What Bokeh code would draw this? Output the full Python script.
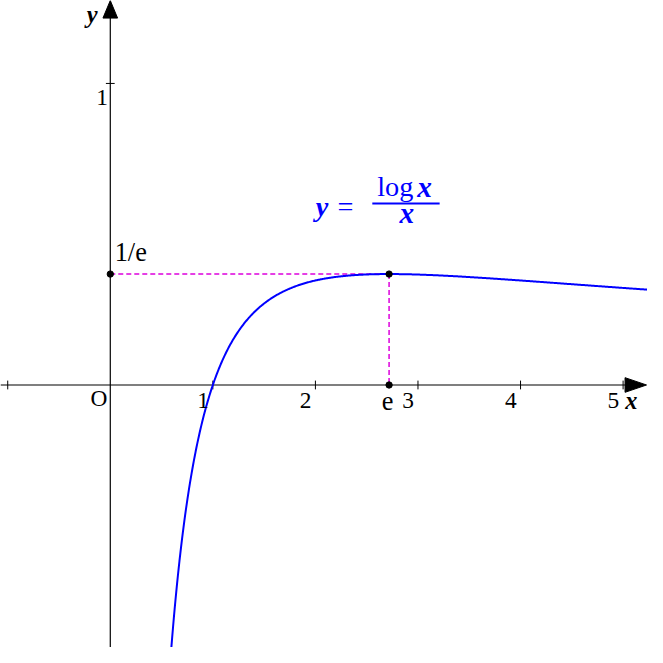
import numpy as np
from bokeh.plotting import figure
from bokeh.models import Range1d
from bokeh.core.properties import value
from bokeh.embed import file_html
from bokeh.resources import INLINE

# ---- data ----
curve_x = np.linspace(0.58, 5.3, 600)
curve_y = np.log(curve_x) / curve_x          # y = log x / x
e_val = float(np.e)
max_y = 1.0 / e_val
x_ticks = [-1, 1, 2, 3, 4, 5]
x_tick_labels = ["1", "2", "3", "4", "5"]
x_label_vals = [1, 2, 3, 4, 5]
y_ticks = [1]

# ---- geometry (reference pixel -> data) ----
REF = 663.0
W = H = 647
K = W / REF
OX, OY = 112.5, 394.0
SX, SY = 105.1, 309.0
MID = 0.3375  # em-box middle above baseline (Liberation Serif)
def X(px): return (px - OX) / SX
def Y(py): return (OY - py) / SY
def fs(px): return f"{px * K:.1f}px"
def o(px): return px * K

p = figure(width=W, height=H, output_backend="svg", toolbar_location=None,
           x_range=Range1d(X(0), X(REF)), y_range=Range1d(Y(REF), Y(0)),
           min_border=0, outline_line_color=None, background_fill_color="white")
p.axis.visible = False
p.grid.visible = False

SERIF = value("Liberation Serif")
BLUE = "#0000FF"
MAG = "#DD00DD"

def label(x, y, s, f, dx=0.0, base=0.0, align="center", style="normal", color="black"):
    """dx, base: pixel offsets (reference px) of centre / baseline from the anchor point"""
    p.text(x=[x], y=[y], text=[s], x_offset=o(dx), y_offset=o(base - MID * f),
           text_align=align, text_baseline="middle", text_font=SERIF,
           text_font_size=fs(f), text_font_style=style, text_color=color)

# axes
p.segment(x0=[X(0)], y0=[0], x1=[X(645)], y1=[0], line_color="black", line_width=1.2)
p.segment(x0=[0], y0=[Y(663)], x1=[0], y1=[Y(14)], line_color="black", line_width=1.2)
# arrow heads
p.patch(x=[X(640), X(662), X(640)], y=[Y(386.5), Y(394), Y(401.5)], color="black")
p.patch(x=[X(105), X(112.5), X(120)], y=[Y(18), Y(0), Y(18)], color="black")

# ticks
p.scatter(x=x_ticks, y=[0] * len(x_ticks), marker="dash", angle=np.pi / 2, size=o(9),
          line_color="black", line_width=1)
p.scatter(x=[0] * len(y_ticks), y=y_ticks, marker="dash", size=o(9),
          line_color="black", line_width=1)

# dashed guides
p.line(x=[0, e_val], y=[max_y, max_y], line_color=MAG, line_dash="5 3", line_width=1.5)
p.line(x=[e_val, e_val], y=[max_y, 0], line_color=MAG, line_dash="5 3", line_width=1.5)

# curve
p.line(x=curve_x, y=curve_y, line_color=BLUE, line_width=2)

# points
p.scatter(x=[0, e_val, e_val], y=[max_y, max_y, 0], size=o(6.5), color="black")

# tick labels
for v, s in zip(x_label_vals, x_tick_labels):
    label(v, 0, s, 24, dx=-10, base=24)
label(0, 0, "O", 24, dx=-11.5, base=21)
label(e_val, 0, "e", 27, dx=-1.5, base=26)
label(0, 1, "1", 24, dx=-8.5, base=23)
label(0, max_y, "1/e", 27, dx=4.5, base=-13, align="left")
# axis names
label(X(646.5), 0, "x", 25, base=24, style="bold italic")
label(X(94), Y(23), "y", 25, style="bold italic")

# formula y = log x / x
label(X(329.5), Y(221), "y", 29, style="bold italic", color=BLUE)
label(X(353.5), Y(221), "=", 29, color=BLUE)
label(X(386), Y(200), "log", 29, align="left", color=BLUE)
label(X(434.5), Y(201), "x", 30, style="bold italic", color=BLUE)
p.segment(x0=[X(381)], y0=[Y(208)], x1=[X(450)], y1=[Y(208)], line_color=BLUE, line_width=2)
label(X(416.5), Y(228), "x", 30, style="bold italic", color=BLUE)

open("out.html", "w").write(file_html(p, INLINE))
